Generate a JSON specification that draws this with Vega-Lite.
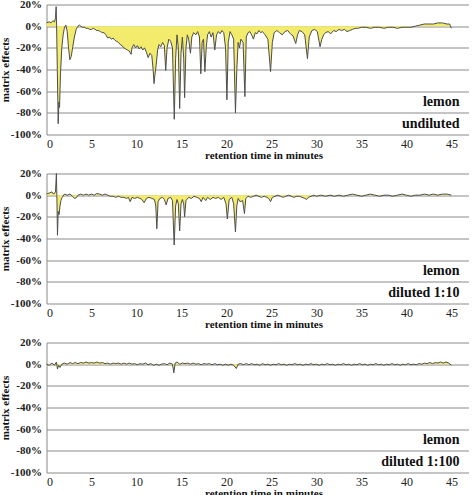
{
"$schema": "https://vega.github.io/schema/vega-lite/v6.json",
"background": "white",
"padding": {"left": -1.5, "top": -1.5, "right": 0, "bottom": 0},
"spacing": 39,
"bounds": "flush",
"datasets": {
"undiluted": [
{"t":0,"v":3},{"t":0.3,"v":4},{"t":0.5,"v":3},{"t":0.7,"v":5},{"t":0.9,"v":4},{"t":1.0,"v":8},{"t":1.07,"v":18},{"t":1.12,"v":2},{"t":1.2,"v":-40},{"t":1.3,"v":-90},{"t":1.38,"v":-70},{"t":1.45,"v":-75},{"t":1.55,"v":-45},{"t":1.7,"v":-20},{"t":1.85,"v":-8},{"t":2.0,"v":-1},{"t":2.15,"v":1},{"t":2.3,"v":-5},{"t":2.45,"v":-20},{"t":2.6,"v":-31},{"t":2.75,"v":-28},{"t":2.9,"v":-20},{"t":3.1,"v":-10},{"t":3.3,"v":-3},{"t":3.5,"v":0},{"t":3.65,"v":1},{"t":3.8,"v":0},{"t":4.0,"v":-1},{"t":4.2,"v":-1},{"t":4.4,"v":-2},{"t":4.6,"v":-2},{"t":4.8,"v":-3},{"t":5.0,"v":-3},{"t":5.2,"v":-2},{"t":5.4,"v":-3},{"t":5.6,"v":-4},{"t":5.8,"v":-4},{"t":6.0,"v":-5},{"t":6.2,"v":-6},{"t":6.4,"v":-6},{"t":6.6,"v":-8},{"t":6.8,"v":-11},{"t":7.0,"v":-10},{"t":7.2,"v":-12},{"t":7.4,"v":-11},{"t":7.6,"v":-13},{"t":7.8,"v":-14},{"t":8.0,"v":-15},{"t":8.2,"v":-17},{"t":8.4,"v":-18},{"t":8.6,"v":-20},{"t":8.8,"v":-21},{"t":9.0,"v":-22},{"t":9.2,"v":-23},{"t":9.4,"v":-26},{"t":9.5,"v":-20},{"t":9.7,"v":-17},{"t":9.9,"v":-20},{"t":10.1,"v":-18},{"t":10.3,"v":-21},{"t":10.5,"v":-19},{"t":10.7,"v":-22},{"t":10.9,"v":-20},{"t":11.1,"v":-24},{"t":11.3,"v":-29},{"t":11.5,"v":-25},{"t":11.7,"v":-27},{"t":11.85,"v":-40},{"t":11.95,"v":-53},{"t":12.05,"v":-45},{"t":12.2,"v":-35},{"t":12.35,"v":-22},{"t":12.5,"v":-17},{"t":12.7,"v":-19},{"t":12.9,"v":-15},{"t":13.1,"v":-18},{"t":13.25,"v":-41},{"t":13.4,"v":-20},{"t":13.6,"v":-12},{"t":13.8,"v":-14},{"t":14.0,"v":-20},{"t":14.2,"v":-86},{"t":14.35,"v":-30},{"t":14.5,"v":-8},{"t":14.65,"v":-20},{"t":14.8,"v":-76},{"t":14.95,"v":-25},{"t":15.1,"v":-10},{"t":15.25,"v":-30},{"t":15.35,"v":-66},{"t":15.5,"v":-20},{"t":15.65,"v":-8},{"t":15.8,"v":-12},{"t":16.0,"v":-25},{"t":16.15,"v":-10},{"t":16.35,"v":-6},{"t":16.6,"v":-8},{"t":16.8,"v":-5},{"t":17.0,"v":-10},{"t":17.15,"v":-44},{"t":17.3,"v":-15},{"t":17.45,"v":-12},{"t":17.6,"v":-42},{"t":17.75,"v":-20},{"t":17.9,"v":-8},{"t":18.1,"v":-5},{"t":18.3,"v":-10},{"t":18.5,"v":-6},{"t":18.7,"v":-22},{"t":18.9,"v":-8},{"t":19.1,"v":-5},{"t":19.3,"v":-7},{"t":19.5,"v":-4},{"t":19.7,"v":-6},{"t":19.9,"v":-20},{"t":20.05,"v":-68},{"t":20.2,"v":-15},{"t":20.4,"v":-5},{"t":20.6,"v":-8},{"t":20.8,"v":-12},{"t":21.0,"v":-80},{"t":21.15,"v":-40},{"t":21.3,"v":-15},{"t":21.45,"v":-20},{"t":21.6,"v":-12},{"t":21.85,"v":-15},{"t":22.05,"v":-65},{"t":22.2,"v":-10},{"t":22.4,"v":-6},{"t":22.6,"v":-5},{"t":22.8,"v":-8},{"t":23.0,"v":-12},{"t":23.2,"v":-6},{"t":23.4,"v":-7},{"t":23.6,"v":-4},{"t":23.8,"v":-6},{"t":24.0,"v":-5},{"t":24.3,"v":-8},{"t":24.6,"v":-12},{"t":24.9,"v":-42},{"t":25.1,"v":-15},{"t":25.3,"v":-6},{"t":25.6,"v":-4},{"t":25.9,"v":-6},{"t":26.2,"v":-8},{"t":26.5,"v":-5},{"t":26.8,"v":-4},{"t":27.1,"v":-7},{"t":27.4,"v":-9},{"t":27.7,"v":-16},{"t":27.9,"v":-8},{"t":28.1,"v":-4},{"t":28.4,"v":-5},{"t":28.7,"v":-8},{"t":29.0,"v":-30},{"t":29.2,"v":-10},{"t":29.5,"v":-4},{"t":29.8,"v":-3},{"t":30.1,"v":-5},{"t":30.4,"v":-19},{"t":30.6,"v":-12},{"t":30.8,"v":-8},{"t":31.0,"v":-6},{"t":31.3,"v":-5},{"t":31.6,"v":-7},{"t":31.9,"v":-4},{"t":32.2,"v":-5},{"t":32.5,"v":-3},{"t":32.8,"v":-4},{"t":33.1,"v":-3},{"t":33.4,"v":-5},{"t":33.7,"v":-4},{"t":34.0,"v":-3},{"t":34.3,"v":-2},{"t":34.6,"v":-2},{"t":35.0,"v":-1},{"t":35.5,"v":-1},{"t":36.0,"v":-2},{"t":36.5,"v":-1},{"t":37.0,"v":-1},{"t":37.5,"v":-2},{"t":38.0,"v":-1},{"t":38.5,"v":-1},{"t":39.0,"v":-2},{"t":39.5,"v":-1},{"t":40.0,"v":-1},{"t":40.5,"v":-1},{"t":41.0,"v":0},{"t":41.5,"v":1},{"t":42.0,"v":2},{"t":42.5,"v":2},{"t":43.0,"v":2},{"t":43.5,"v":3},{"t":44.0,"v":3},{"t":44.5,"v":2},{"t":44.8,"v":2},{"t":45.0,"v":-2}
],
"d10": [
{"t":0,"v":1},{"t":0.3,"v":2},{"t":0.6,"v":3},{"t":0.8,"v":1},{"t":1.0,"v":3},{"t":1.1,"v":20},{"t":1.15,"v":0},{"t":1.22,"v":-37},{"t":1.3,"v":-15},{"t":1.4,"v":-18},{"t":1.5,"v":-10},{"t":1.6,"v":-5},{"t":1.75,"v":-2},{"t":2.0,"v":1},{"t":2.3,"v":0},{"t":2.6,"v":1},{"t":2.9,"v":-1},{"t":3.1,"v":-3},{"t":3.3,"v":-2.5},{"t":3.5,"v":0},{"t":3.8,"v":1},{"t":4.1,"v":0},{"t":4.4,"v":1},{"t":4.7,"v":0},{"t":5.0,"v":1},{"t":5.3,"v":0},{"t":5.6,"v":1.5},{"t":5.9,"v":1},{"t":6.2,"v":0},{"t":6.5,"v":1},{"t":6.8,"v":0},{"t":7.1,"v":-1},{"t":7.4,"v":-1},{"t":7.7,"v":-2},{"t":8.0,"v":-1},{"t":8.3,"v":-2},{"t":8.6,"v":-2},{"t":8.9,"v":-3},{"t":9.1,"v":-2},{"t":9.3,"v":-6},{"t":9.5,"v":-2},{"t":9.8,"v":-3},{"t":10.1,"v":-2},{"t":10.4,"v":-3},{"t":10.6,"v":-4},{"t":10.85,"v":-7},{"t":11.1,"v":-3},{"t":11.4,"v":-2},{"t":11.7,"v":-3},{"t":12.0,"v":-4},{"t":12.15,"v":-10},{"t":12.26,"v":-31},{"t":12.4,"v":-6},{"t":12.6,"v":-3},{"t":12.9,"v":-2},{"t":13.1,"v":-4},{"t":13.3,"v":-9},{"t":13.5,"v":-3},{"t":13.8,"v":-2},{"t":14.0,"v":-5},{"t":14.19,"v":-46},{"t":14.35,"v":-10},{"t":14.5,"v":-4},{"t":14.65,"v":-8},{"t":14.8,"v":-33},{"t":14.95,"v":-8},{"t":15.1,"v":-4},{"t":15.25,"v":-8},{"t":15.35,"v":-20},{"t":15.5,"v":-5},{"t":15.8,"v":-2},{"t":16.1,"v":-3},{"t":16.4,"v":-1},{"t":16.7,"v":-2},{"t":17.0,"v":-3},{"t":17.2,"v":-6},{"t":17.4,"v":-2},{"t":17.7,"v":-5},{"t":17.9,"v":-2},{"t":18.2,"v":-4},{"t":18.5,"v":-2},{"t":18.8,"v":-3},{"t":19.1,"v":-2},{"t":19.4,"v":-4},{"t":19.7,"v":-2},{"t":19.95,"v":-8},{"t":20.1,"v":-22},{"t":20.3,"v":-4},{"t":20.6,"v":-2},{"t":20.8,"v":-8},{"t":21.0,"v":-34},{"t":21.15,"v":-10},{"t":21.3,"v":-3},{"t":21.5,"v":-6},{"t":21.8,"v":-5},{"t":22.0,"v":-17},{"t":22.15,"v":-3},{"t":22.4,"v":-1},{"t":22.7,"v":-2},{"t":23.0,"v":-1},{"t":23.3,"v":0},{"t":23.6,"v":-1},{"t":23.9,"v":-2},{"t":24.2,"v":-1},{"t":24.5,"v":-2},{"t":24.7,"v":-3},{"t":24.9,"v":-6},{"t":25.1,"v":-2},{"t":25.4,"v":-1},{"t":25.7,"v":0},{"t":26.0,"v":-1},{"t":26.3,"v":-2},{"t":26.6,"v":-1},{"t":26.9,"v":0},{"t":27.2,"v":-1},{"t":27.5,"v":-2},{"t":27.8,"v":-1},{"t":28.1,"v":-1},{"t":28.4,"v":-2},{"t":28.7,"v":-3},{"t":28.9,"v":-4},{"t":29.1,"v":-2},{"t":29.4,"v":-1},{"t":29.7,"v":0},{"t":30.0,"v":-1},{"t":30.5,"v":0},{"t":31.0,"v":-1},{"t":31.5,"v":0},{"t":32.0,"v":-1},{"t":32.5,"v":0},{"t":33.0,"v":-1},{"t":33.5,"v":0},{"t":34.0,"v":1},{"t":34.5,"v":0},{"t":35.0,"v":-1},{"t":35.5,"v":0},{"t":36.0,"v":1},{"t":36.5,"v":0},{"t":37.0,"v":-1},{"t":37.5,"v":0},{"t":38.0,"v":0},{"t":38.5,"v":-1},{"t":39.0,"v":0},{"t":39.5,"v":1},{"t":40.0,"v":0},{"t":40.5,"v":-1},{"t":41.0,"v":0},{"t":41.5,"v":0},{"t":42.0,"v":1},{"t":42.5,"v":0},{"t":43.0,"v":1},{"t":43.5,"v":0},{"t":44.0,"v":1},{"t":44.5,"v":1},{"t":45.0,"v":0}
],
"d100": [
{"t":0,"v":0},{"t":0.3,"v":-1},{"t":0.6,"v":1},{"t":0.9,"v":-1},{"t":1.1,"v":2},{"t":1.22,"v":-4.5},{"t":1.35,"v":-1},{"t":1.5,"v":-3},{"t":1.7,"v":0},{"t":2.0,"v":1},{"t":2.3,"v":0},{"t":2.6,"v":1.5},{"t":2.9,"v":0.5},{"t":3.2,"v":1.5},{"t":3.5,"v":0.5},{"t":3.8,"v":1.5},{"t":4.1,"v":1},{"t":4.4,"v":2},{"t":4.7,"v":1},{"t":5.0,"v":1.5},{"t":5.3,"v":1},{"t":5.6,"v":2},{"t":5.9,"v":1},{"t":6.2,"v":1.5},{"t":6.5,"v":0.5},{"t":6.8,"v":1},{"t":7.1,"v":0},{"t":7.4,"v":1},{"t":7.7,"v":0.5},{"t":8.0,"v":1},{"t":8.3,"v":0},{"t":8.6,"v":1},{"t":8.9,"v":0},{"t":9.2,"v":1},{"t":9.5,"v":0},{"t":9.8,"v":0.5},{"t":10.1,"v":-0.5},{"t":10.4,"v":0.5},{"t":10.7,"v":0},{"t":11.0,"v":1},{"t":11.3,"v":-0.5},{"t":11.6,"v":0.5},{"t":11.9,"v":-1},{"t":12.2,"v":0},{"t":12.5,"v":-1},{"t":12.8,"v":0},{"t":13.1,"v":0.5},{"t":13.4,"v":-0.5},{"t":13.7,"v":1},{"t":14.0,"v":0},{"t":14.15,"v":-8},{"t":14.3,"v":1},{"t":14.5,"v":2},{"t":14.8,"v":0},{"t":15.1,"v":1},{"t":15.4,"v":0.5},{"t":15.7,"v":1},{"t":16.0,"v":0},{"t":16.3,"v":1},{"t":16.6,"v":0},{"t":16.9,"v":0.5},{"t":17.2,"v":-0.5},{"t":17.5,"v":0.5},{"t":17.8,"v":0},{"t":18.1,"v":0.5},{"t":18.4,"v":-0.5},{"t":18.7,"v":0.5},{"t":19.0,"v":-0.5},{"t":19.3,"v":0},{"t":19.6,"v":-1},{"t":19.9,"v":0},{"t":20.2,"v":-1},{"t":20.5,"v":0},{"t":20.8,"v":-1},{"t":21.1,"v":-4},{"t":21.3,"v":0},{"t":21.6,"v":0.5},{"t":21.9,"v":-0.5},{"t":22.2,"v":0.5},{"t":22.5,"v":-0.5},{"t":22.8,"v":0.5},{"t":23.1,"v":-0.5},{"t":23.4,"v":0},{"t":23.7,"v":-1},{"t":24.0,"v":0.5},{"t":24.3,"v":-0.5},{"t":24.6,"v":0},{"t":24.9,"v":-1},{"t":25.2,"v":0},{"t":25.5,"v":-0.5},{"t":25.8,"v":0.5},{"t":26.1,"v":-0.5},{"t":26.4,"v":0},{"t":26.7,"v":-1},{"t":27.0,"v":0},{"t":27.3,"v":-0.5},{"t":27.6,"v":0.5},{"t":27.9,"v":-0.5},{"t":28.2,"v":0},{"t":28.5,"v":-1},{"t":28.8,"v":0},{"t":29.1,"v":-0.5},{"t":29.4,"v":0.5},{"t":29.7,"v":-0.5},{"t":30.0,"v":0},{"t":30.3,"v":-1},{"t":30.6,"v":0},{"t":30.9,"v":-0.5},{"t":31.2,"v":0.5},{"t":31.5,"v":-0.5},{"t":31.8,"v":0},{"t":32.1,"v":-1},{"t":32.4,"v":0},{"t":32.7,"v":-0.5},{"t":33.0,"v":0.5},{"t":33.3,"v":-0.5},{"t":33.6,"v":0},{"t":33.9,"v":-1},{"t":34.2,"v":0},{"t":34.5,"v":-0.5},{"t":34.8,"v":0.5},{"t":35.1,"v":-0.5},{"t":35.4,"v":0},{"t":35.7,"v":-1},{"t":36.0,"v":0},{"t":36.3,"v":-0.5},{"t":36.6,"v":0.5},{"t":36.9,"v":-0.5},{"t":37.2,"v":0},{"t":37.5,"v":-1},{"t":37.8,"v":0},{"t":38.1,"v":-0.5},{"t":38.4,"v":0.5},{"t":38.7,"v":-0.5},{"t":39.0,"v":0},{"t":39.3,"v":-1},{"t":39.6,"v":0},{"t":39.9,"v":-0.5},{"t":40.2,"v":0.5},{"t":40.5,"v":-0.5},{"t":40.8,"v":0},{"t":41.1,"v":-0.5},{"t":41.4,"v":0.5},{"t":41.7,"v":0},{"t":42.0,"v":1},{"t":42.3,"v":0.5},{"t":42.6,"v":1.5},{"t":42.9,"v":0.5},{"t":43.2,"v":1.5},{"t":43.5,"v":1},{"t":43.8,"v":2},{"t":44.1,"v":1},{"t":44.4,"v":2},{"t":44.7,"v":1},{"t":45.0,"v":-1}
]
},
"vconcat": [
{
"width": 422, "height": 130,
"data": {"name": "undiluted"},
"layer": [
{"mark": {"type": "area", "color": "#F2EB6B", "opacity": 1},
 "encoding": {
  "x": {"field": "t", "type": "quantitative", "scale": {"domain": [0, 46.9], "nice": false}, "axis": {"values": [0,5,10,15,20,25,30,35,40,45], "tickCount": 12, "labelOverlap": false, "title": "retention time in minutes", "titleX": 217}},
  "y": {"field": "v", "type": "quantitative", "scale": {"domain": [-100, 20], "nice": false}, "axis": {"values": [-100,-80,-60,-40,-20,0,20], "tickCount": 10, "labelOverlap": false, "labelExpr": "datum.value + '%'", "title": "matrix effects"}},
  "y2": {"datum": 0}}},
{"mark": {"type": "line", "color": "#4d4d4d", "strokeWidth": 1},
 "encoding": {
  "x": {"field": "t", "type": "quantitative", "axis": {"values": [0,5,10,15,20,25,30,35,40,45], "tickCount": 12, "labelOverlap": false, "title": "retention time in minutes", "titleX": 217}},
  "y": {"field": "v", "type": "quantitative", "axis": {"values": [-100,-80,-60,-40,-20,0,20], "tickCount": 10, "labelOverlap": false, "labelExpr": "datum.value + '%'", "title": "matrix effects"}}}},
{"data": {"values": [{"label": "lemon"}]},
 "mark": {"type": "text", "align": "right", "baseline": "middle", "font": "Liberation Serif", "fontWeight": "bold", "fontSize": 14, "color": "#111"},
 "encoding": {"x": {"datum": 45.9, "type": "quantitative"}, "y": {"datum": -70.4, "type": "quantitative"}, "text": {"field": "label"}}},
{"data": {"values": [{"label": "undiluted"}]},
 "mark": {"type": "text", "align": "right", "baseline": "middle", "font": "Liberation Serif", "fontWeight": "bold", "fontSize": 14, "color": "#111"},
 "encoding": {"x": {"datum": 45.9, "type": "quantitative"}, "y": {"datum": -90.7, "type": "quantitative"}, "text": {"field": "label"}}}
]
},
{
"width": 422, "height": 130,
"data": {"name": "d10"},
"layer": [
{"mark": {"type": "area", "color": "#F2EB6B", "opacity": 1},
 "encoding": {
  "x": {"field": "t", "type": "quantitative", "scale": {"domain": [0, 46.9], "nice": false}, "axis": {"values": [0,5,10,15,20,25,30,35,40,45], "tickCount": 12, "labelOverlap": false, "title": "retention time in minutes", "titleX": 217}},
  "y": {"field": "v", "type": "quantitative", "scale": {"domain": [-100, 20], "nice": false}, "axis": {"values": [-100,-80,-60,-40,-20,0,20], "tickCount": 10, "labelOverlap": false, "labelExpr": "datum.value + '%'", "title": "matrix effects"}},
  "y2": {"datum": 0}}},
{"mark": {"type": "line", "color": "#4d4d4d", "strokeWidth": 1},
 "encoding": {
  "x": {"field": "t", "type": "quantitative", "axis": {"values": [0,5,10,15,20,25,30,35,40,45], "tickCount": 12, "labelOverlap": false, "title": "retention time in minutes", "titleX": 217}},
  "y": {"field": "v", "type": "quantitative", "axis": {"values": [-100,-80,-60,-40,-20,0,20], "tickCount": 10, "labelOverlap": false, "labelExpr": "datum.value + '%'", "title": "matrix effects"}}}},
{"data": {"values": [{"label": "lemon"}]},
 "mark": {"type": "text", "align": "right", "baseline": "middle", "font": "Liberation Serif", "fontWeight": "bold", "fontSize": 14, "color": "#111"},
 "encoding": {"x": {"datum": 45.9, "type": "quantitative"}, "y": {"datum": -70.4, "type": "quantitative"}, "text": {"field": "label"}}},
{"data": {"values": [{"label": "diluted 1:10"}]},
 "mark": {"type": "text", "align": "right", "baseline": "middle", "font": "Liberation Serif", "fontWeight": "bold", "fontSize": 14, "color": "#111"},
 "encoding": {"x": {"datum": 45.9, "type": "quantitative"}, "y": {"datum": -90.7, "type": "quantitative"}, "text": {"field": "label"}}}
]
},
{
"width": 422, "height": 130,
"data": {"name": "d100"},
"layer": [
{"mark": {"type": "area", "color": "#F2EB6B", "opacity": 1},
 "encoding": {
  "x": {"field": "t", "type": "quantitative", "scale": {"domain": [0, 46.9], "nice": false}, "axis": {"values": [0,5,10,15,20,25,30,35,40,45], "tickCount": 12, "labelOverlap": false, "title": "retention time in minutes", "titleX": 217}},
  "y": {"field": "v", "type": "quantitative", "scale": {"domain": [-100, 20], "nice": false}, "axis": {"values": [-100,-80,-60,-40,-20,0,20], "tickCount": 10, "labelOverlap": false, "labelExpr": "datum.value + '%'", "title": "matrix effects"}},
  "y2": {"datum": 0}}},
{"mark": {"type": "line", "color": "#4d4d4d", "strokeWidth": 1},
 "encoding": {
  "x": {"field": "t", "type": "quantitative", "axis": {"values": [0,5,10,15,20,25,30,35,40,45], "tickCount": 12, "labelOverlap": false, "title": "retention time in minutes", "titleX": 217}},
  "y": {"field": "v", "type": "quantitative", "axis": {"values": [-100,-80,-60,-40,-20,0,20], "tickCount": 10, "labelOverlap": false, "labelExpr": "datum.value + '%'", "title": "matrix effects"}}}},
{"data": {"values": [{"label": "lemon"}]},
 "mark": {"type": "text", "align": "right", "baseline": "middle", "font": "Liberation Serif", "fontWeight": "bold", "fontSize": 14, "color": "#111"},
 "encoding": {"x": {"datum": 45.9, "type": "quantitative"}, "y": {"datum": -70.4, "type": "quantitative"}, "text": {"field": "label"}}},
{"data": {"values": [{"label": "diluted 1:100"}]},
 "mark": {"type": "text", "align": "right", "baseline": "middle", "font": "Liberation Serif", "fontWeight": "bold", "fontSize": 14, "color": "#111"},
 "encoding": {"x": {"datum": 45.9, "type": "quantitative"}, "y": {"datum": -90.7, "type": "quantitative"}, "text": {"field": "label"}}}
]
}
],
"config": {
 "view": {"stroke": null},
 "axisX": {"grid": false, "ticks": false, "domain": false, "labelPadding": 4, "labelFont": "Liberation Serif", "labelFontSize": 12, "labelColor": "#222", "titleFont": "Liberation Serif", "titleFontWeight": "bold", "titleFontSize": 11, "titleColor": "#111", "titlePadding": 0},
 "axisY": {"grid": true, "gridColor": "#8a8a8a", "gridWidth": 1, "gridOpacity": 1, "ticks": false, "domain": true, "domainColor": "#8a8a8a", "domainWidth": 1, "labelPadding": 5, "labelFont": "Liberation Serif", "labelFontSize": 11, "labelFontWeight": "bold", "labelColor": "#222", "titleFont": "Liberation Serif", "titleFontWeight": "bold", "titleFontSize": 11, "titleColor": "#111", "titleX": -41, "titleY": 65, "titleAngle": -90, "titleBaseline": "middle", "titleAlign": "center"}
}
}
